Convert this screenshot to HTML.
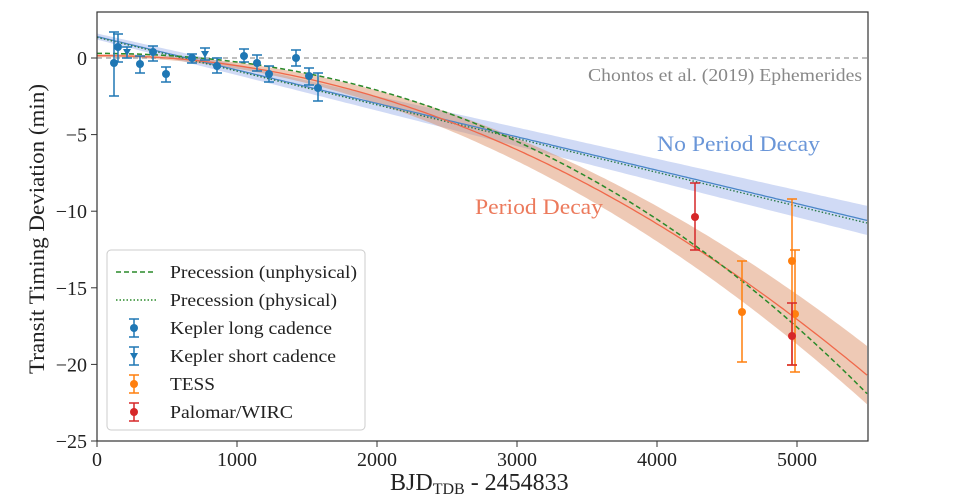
<!DOCTYPE html>
<html><head><meta charset="utf-8"><style>
body{margin:0;background:#fff;}
svg{display:block;font-family:"Liberation Serif","DejaVu Serif",serif;}
</style></head><body>
<svg id="s" width="954" height="500" viewBox="0 0 954 500" xmlns="http://www.w3.org/2000/svg">
<rect width="954" height="500" fill="#fff"/>
<g id="bands"></g>
<line x1="97" y1="58" x2="868" y2="58" stroke="#999" stroke-width="1.3" stroke-dasharray="5,4"/>
<g id="lines"></g>
<g id="pts"></g>
<text x="588" y="81" font-size="18" fill="#888" textLength="274" lengthAdjust="spacingAndGlyphs">Chontos et al. (2019) Ephemerides</text>
<text x="657" y="151" font-size="22.5" fill="#6a96d8" textLength="163" lengthAdjust="spacingAndGlyphs">No Period Decay</text>
<text x="475" y="214" font-size="22.5" fill="#ec7a5c" textLength="128" lengthAdjust="spacingAndGlyphs">Period Decay</text>
<rect x="97" y="12" width="771" height="429" fill="none" stroke="#333" stroke-width="1.2"/>
<g id="ticks" font-size="20" fill="#222"></g>
<text transform="translate(44,229) rotate(-90)" font-size="22" text-anchor="middle" fill="#222" textLength="290" lengthAdjust="spacingAndGlyphs">Transit Timing Deviation (min)</text>
<text x="390" y="490" font-size="24" fill="#222">BJD<tspan font-size="16" dy="4">TDB</tspan><tspan dy="-4"> - 2454833</tspan></text>
<g>
<rect x="107" y="250" width="258" height="180" rx="4" fill="#fff" fill-opacity="0.85" stroke="#ccc"/>
<line x1="116" y1="272" x2="156" y2="272" stroke="#2a8a2a" stroke-width="1.5" stroke-dasharray="5,3"/>
<text x="170" y="278" font-size="18" fill="#222" textLength="187" lengthAdjust="spacingAndGlyphs">Precession (unphysical)</text>
<line x1="116" y1="300" x2="156" y2="300" stroke="#2a8a2a" stroke-width="1.5" stroke-dasharray="1.5,2"/>
<text x="170" y="306" font-size="18" fill="#222" textLength="167" lengthAdjust="spacingAndGlyphs">Precession (physical)</text>
<g stroke="#1f77b4" stroke-width="1.5"><line x1="134" y1="319" x2="134" y2="337"/><line x1="129" y1="319" x2="139" y2="319"/><line x1="129" y1="337" x2="139" y2="337"/></g>
<circle cx="134" cy="328" r="4" fill="#1f77b4"/>
<text x="170" y="334" font-size="18" fill="#222" textLength="162" lengthAdjust="spacingAndGlyphs">Kepler long cadence</text>
<g stroke="#1f77b4" stroke-width="1.5"><line x1="134" y1="347" x2="134" y2="365"/><line x1="129" y1="347" x2="139" y2="347"/><line x1="129" y1="365" x2="139" y2="365"/></g>
<polygon points="130,353 138,353 134,360" fill="#1f77b4"/>
<text x="170" y="362" font-size="18" fill="#222" textLength="166" lengthAdjust="spacingAndGlyphs">Kepler short cadence</text>
<g stroke="#ff7f0e" stroke-width="1.5"><line x1="134" y1="375" x2="134" y2="393"/><line x1="129" y1="375" x2="139" y2="375"/><line x1="129" y1="393" x2="139" y2="393"/></g>
<circle cx="134" cy="384" r="4" fill="#ff7f0e"/>
<text x="170" y="390" font-size="18" fill="#222" textLength="45" lengthAdjust="spacingAndGlyphs">TESS</text>
<g stroke="#d62728" stroke-width="1.5"><line x1="134" y1="403" x2="134" y2="421"/><line x1="129" y1="403" x2="139" y2="403"/><line x1="129" y1="421" x2="139" y2="421"/></g>
<circle cx="134" cy="412" r="4" fill="#d62728"/>
<text x="170" y="418" font-size="18" fill="#222" textLength="123" lengthAdjust="spacingAndGlyphs">Palomar/WIRC</text>
</g>
</svg>
<script>
const NS="http://www.w3.org/2000/svg";
const px=x=>97+0.14*x, py=y=>58-15.32*y;
function el(p,t,a){const e=document.createElementNS(NS,t);for(const k in a)e.setAttribute(k,a[k]);document.getElementById(p).appendChild(e);return e;}
const red=x=>0.15+4.8e-5*x-6.98e-7*x*x;
const blue=x=>1.4-12.0*x/5500;
const green=x=>0.3-5.24e-7*x*x-3.82e-11*x*x*x;
function path(f,off){let d="";for(let x=0;x<=5500;x+=25){d+=(x?"L":"M")+px(x).toFixed(1)+","+py(f(x)+(off?off(x):0)).toFixed(1);}return d;}
function band(f,hw,col,op){let a=[],b=[];for(let x=0;x<=5500;x+=25){a.push(px(x).toFixed(1)+","+py(f(x)+hw(x)).toFixed(1));b.unshift(px(x).toFixed(1)+","+py(f(x)-hw(x)).toFixed(1));}
el("bands","polygon",{points:a.concat(b).join(" "),fill:col,"fill-opacity":op});}
band(blue,x=>0.2+0.75*x/5500,"#6f8fe0",0.33);
band(red,x=>0.1+1.8*Math.pow(x/5500,1.7),"#d9875a",0.45);
el("lines","path",{d:path(blue),stroke:"#4a86c8","stroke-width":1.3,fill:"none"});
el("lines","path",{d:path(x=>blue(x)-0.12*x/5500-0.05),stroke:"#2a7a4a","stroke-width":1.4,fill:"none","stroke-dasharray":"1.5,2"});
el("lines","path",{d:path(red),stroke:"#f0684a","stroke-width":1.3,fill:"none"});
el("lines","path",{d:path(green),stroke:"#2a8a2a","stroke-width":1.5,fill:"none","stroke-dasharray":"5,3"});
function pt(x,y,t,b,c,tri){const g=el("pts","g",{stroke:c,"stroke-width":1.5});
[[x,t,x,b],[x-5,t,x+5,t],[x-5,b,x+5,b]].forEach(l=>{const e=document.createElementNS(NS,"line");e.setAttribute("x1",l[0]);e.setAttribute("y1",l[1]);e.setAttribute("x2",l[2]);e.setAttribute("y2",l[3]);g.appendChild(e);});
if(tri)el("pts","polygon",{points:`${x-4},${y-3} ${x+4},${y-3} ${x},${y+4}`,fill:c});else el("pts","circle",{cx:x,cy:y,r:4,fill:c});}
const B="#1f77b4";
[[114,63,32,96],[118,47,34,62],[140,64,56,73],[153,52,46,61],[166,74,67,82],[192,58,54,63],[217,66,58,73],[244,56,49,62],[257,63,55,71],[269,74,66,82],[296,58,50,66],[309,76,68,85],[318,88,73,101]].forEach(p=>pt(p[0],p[1],p[2],p[3],B));
pt(127,52,47,58,B,1);pt(205,54,48,60,B,1);
pt(742,312,261,362,"#ff7f0e");pt(792,261,199,365,"#ff7f0e");pt(795,314,250,372,"#ff7f0e");
pt(695,217,183,250,"#d62728");pt(792,336,303,365,"#d62728");
for(let i=0;i<=5;i++){const x=px(i*1000);el("ticks","line",{x1:x,y1:441,x2:x,y2:447,stroke:"#333"});
const t=el("ticks","text",{x:x,y:466,"text-anchor":"middle"});t.textContent=i*1000;}
for(let v=0;v>=-25;v-=5){const y=py(v);el("ticks","line",{x1:91,y1:y,x2:97,y2:y,stroke:"#333"});
const t=el("ticks","text",{x:87,y:y+7,"text-anchor":"end"});t.textContent=v==0?"0":"\u2212"+(-v);}
</script>
</body></html>
